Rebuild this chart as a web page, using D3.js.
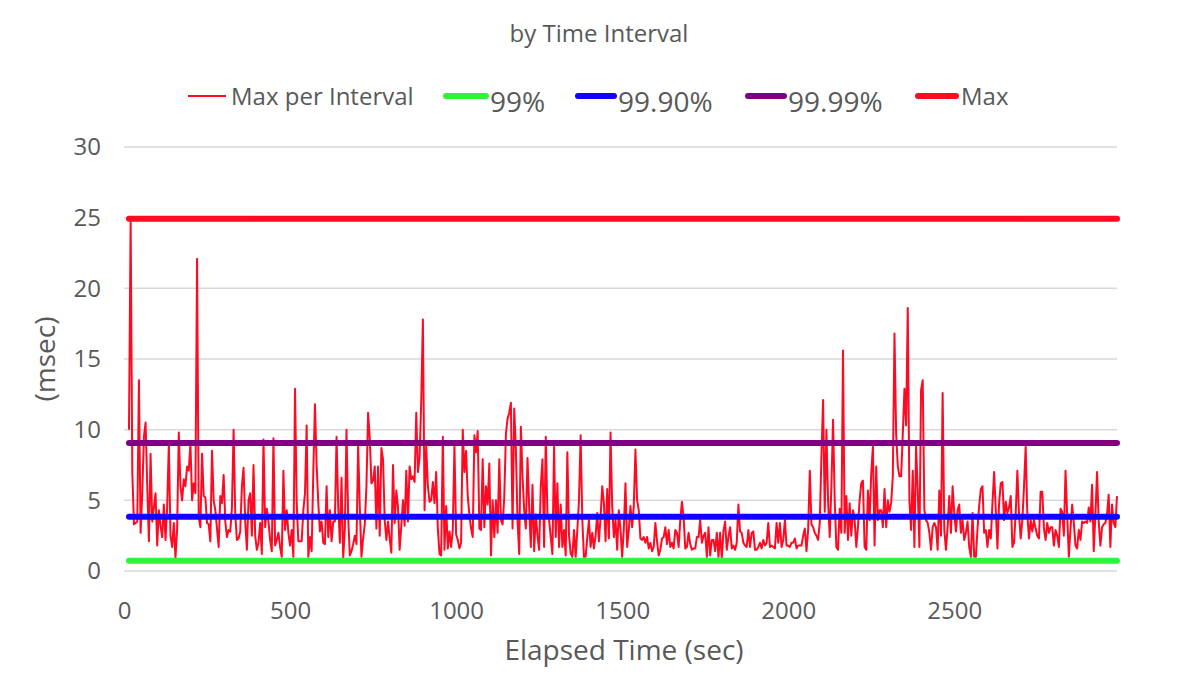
<!DOCTYPE html>
<html><head><meta charset="utf-8">
<script src="https://cdn.jsdelivr.net/npm/d3@7"></script>
<style>
body{margin:0;background:#fff}
svg{display:block}
text{font-family:"Open Sans",sans-serif;fill:#595959}
</style>
</head><body>
<svg id="chart" width="1196" height="698"></svg>
<script>
// Max latency per 5-second interval (msec)
const maxPerInterval = [
10,24.93,7,3.3,3.4,3.5,13.5,2.7,5.5,9.5,
10.5,6,2.1,8.3,3.5,4.5,5.5,1.8,4.3,3.2,
2.4,4.7,2.2,4.5,9,2.5,1.7,3.4,0.9,3,
9.8,6,5,6.5,6,7.4,7.1,9,5,6.2,
5.5,22.1,3.8,3.1,8.3,5.3,5.2,3.4,3.3,2.1,
8.5,5,4.3,3,1.7,5.3,4.8,6.8,3.5,2.4,
2.9,2.8,4.5,10,4,2.2,2.3,2.8,6,7.3,
3.5,1.5,5,5.5,2.5,7.5,2.5,1.5,2,3.4,
1.2,9.3,3.1,4.4,3.5,2.2,1.4,9.4,1.8,2.2,
2.7,1.7,1.0,7.1,2.9,4.3,2.7,1.8,2.9,1.0,
12.9,4.8,2.1,2.1,2.1,4.3,5.5,10.3,1.0,2.4,
1.4,7.0,11.8,7.5,4.8,2.8,3.5,2.0,1.9,6.0,
2.4,4.3,2.1,3.5,3.5,9.5,4.6,2.0,6.6,0.9,
3.0,10.0,3.8,1.1,1.4,1.9,2.5,1.9,8.9,4.5,
1.0,2.3,3.3,6,11.2,9.4,6.2,6.4,7.4,3.0,
7.4,2.5,8.7,7.9,3.6,2.2,3.5,2.3,1.3,7.5,
3.4,5.7,4.5,1.5,3.2,5.0,3.2,7.1,3.5,7.4,
6.5,6.7,6.3,11.2,7.0,8.0,12,17.8,4.3,8.8,
6.0,4.9,5.0,6.3,4.8,7.0,3.0,1.2,1.1,9.5,
1.5,4.6,1.6,2.8,1.7,2.9,8.9,2.6,2.2,1.6,
2.0,10.0,7.0,8.5,5.3,4.0,3.0,2.4,9.6,8.4,
9.9,3.0,2.9,7.9,3.1,6.0,4.7,7.6,1.1,5.0,
2.4,5.0,2.7,7.9,3.6,3.3,5.2,9.7,10.8,11.2,
11.9,3.0,11.5,8.6,3.5,1.2,10.2,6.7,4.3,3.0,
8.0,4.5,1.7,6.1,1.4,4.0,2.5,1.5,6.0,7.9,
1.7,9.5,4.0,3.6,2.4,1.2,8.8,2.4,6.2,1.7,
4.7,1.7,2.9,1.1,8.4,2.5,1.25,1.0,2.9,1.0,
2.9,5.0,9.6,3.6,1.0,1.0,2.4,3.6,1.7,2.7,
1.6,2.5,4.1,2.1,3.8,6.0,4.8,2.1,5.8,2.3,
9.8,4.6,2.4,3.6,1.5,4.3,2.9,1.0,3.0,6.2,
1.7,2.9,4.6,3.1,4.6,8.6,5.0,4.3,2.3,2.2,
2.4,2.0,2.4,1.6,2.0,1.4,1.7,3.4,2.1,1.1,
1.5,2.3,2.4,3.1,1.9,2.9,1.7,2.0,1.6,2.9,
2.7,1.7,3.6,4.9,3.8,1.6,1.7,2.7,1.9,1.5,
1.6,1.6,2.4,2.4,3.6,2.0,2.5,2.7,1.0,3.1,
1.1,2.2,2.2,1.4,2.7,1.0,2.7,0.9,2.8,3.5,
1.5,2.4,3.1,1.6,1.8,1.5,2.0,4.7,2.8,2.7,
2.0,1.8,1.7,2.9,1.7,2.7,2.8,1.5,1.5,1.7,
2.0,1.6,2.2,1.8,2.0,3.4,1.7,1.8,1.7,1.6,
3.4,2.0,3.4,1.7,2.2,3.6,1.8,1.8,1.7,2.0,
2.0,2.3,1.6,1.8,1.8,1.8,2.5,3.0,1.4,2.9,
7.1,3.3,3.1,2.7,2.5,2.2,3.4,8.1,12.1,4.2,
10.0,5.0,2.4,6.0,10.7,5.0,1.7,1.5,4.4,2.7,
15.6,2.7,5.3,2.2,4.8,2.5,4.3,3.6,1.7,3.1,
5.0,6.2,6.4,1.7,1.5,5.7,3.6,6.9,8.8,1.8,
7.4,3.6,4.3,4.3,3.1,5.8,3.1,5.0,4.2,4.8,
6.7,16.8,9.7,7.4,6.7,6.7,9.7,12.9,10.3,18.6,
5.0,2.9,7.1,1.7,8.8,5.7,1.7,12.8,13.5,4.3,
3.6,3.4,2.7,1.5,3.1,3.4,3.1,1.5,5.7,2.5,
12.6,2.9,1.5,3.1,5.3,2.7,6.0,4.1,2.8,4.3,
4.7,2.7,3.6,2.2,2.7,3.5,1.7,1.0,4.1,1.0,
1.0,3.0,4.6,5.8,6.0,2.7,2.9,1.7,2.9,2.3,
4.8,7.0,4.3,1.6,4.8,6.2,6.3,3.6,4.9,4.1,
4.5,5.3,1.7,2.0,4.1,7.1,4.0,2.3,3.6,6.0,
8.8,4.0,2.3,3.6,2.8,3.6,3.0,2.5,2.3,5.6,
5.6,3.0,2.2,3.4,2.7,3.1,3.1,1.8,2.9,2.5,
1.7,4.4,4.2,2.5,7.1,4.0,1.0,3.0,4.7,3.4,
1.8,1.6,2.9,2.2,3.5,3.4,3.5,3.4,4.5,3.5,
6.1,1.4,4.0,7.0,3.4,1.8,3.1,3.3,3.4,4.0,
5.4,1.7,4.7,3.4,3.1,5.3
];
const firstSec = 15, stepSec = 5;
const elapsedSec = maxPerInterval.map((_, i) => firstSec + stepSec * i);

const percentileNames = ["99%", "99.90%", "99.99%", "Max"];
const percentileValues = [0.73, 3.84, 9.06, 24.93];
const percentileColors = ["#2ef53c", "#1400ff", "#800080", "#ff0a23"];
const seriesName = "Max per Interval";
const seriesColor = "#ff0a23";

const yTicks = [0, 5, 10, 15, 20, 25, 30];
const xTicks = [0, 500, 1000, 1500, 2000, 2500];
const xDomain = [0, 2990];
const yDomain = [0, 30];

const svg = d3.select("#chart");
svg.append("rect").attr("width", 1196).attr("height", 698).attr("fill", "#fff");

const x = d3.scaleLinear().domain(xDomain).range([124, 1117]);
const y = d3.scaleLinear().domain(yDomain).range([571, 147]);

// gridlines
svg.append("g").selectAll("line").data(yTicks).join("line")
  .attr("x1", x(xDomain[0])).attr("x2", x(xDomain[1]))
  .attr("y1", d => y(d)).attr("y2", d => y(d))
  .attr("stroke", "#d9d9d9").attr("stroke-width", 1.5);

// axes
const yAxis = svg.append("g").attr("transform", `translate(${x(xDomain[0])},0)`)
  .call(d3.axisLeft(y).tickValues(yTicks).tickSize(0).tickPadding(23).tickFormat(d3.format("d")));
const xAxis = svg.append("g").attr("transform", `translate(0,${y(0)})`)
  .call(d3.axisBottom(x).tickValues(xTicks).tickSize(0).tickPadding(31).tickFormat(d3.format("d")));
[yAxis, xAxis].forEach(a => {
  a.select(".domain").remove();
  a.selectAll("text").attr("font-size", 24).attr("font-family", '"Open Sans",sans-serif').attr("fill", "#595959");
});

// series
const line = d3.line().x((d, i) => x(elapsedSec[i])).y(d => y(d));
svg.append("path").datum(maxPerInterval)
  .attr("d", line).attr("fill", "none")
  .attr("stroke", seriesColor).attr("stroke-width", 2).attr("stroke-linejoin", "round");

// percentile lines
const first = elapsedSec[0], last = elapsedSec[elapsedSec.length - 1];
svg.append("g").selectAll("line").data(percentileValues).join("line")
  .attr("x1", x(first)).attr("x2", x(last))
  .attr("y1", d => y(d)).attr("y2", d => y(d))
  .attr("stroke", (d, i) => percentileColors[i]).attr("stroke-width", 6)
  .attr("stroke-linecap", "round");

// title
svg.append("text").attr("x", 599).attr("y", 42).attr("text-anchor", "middle")
  .attr("font-size", 24).text("by Time Interval");

// legend
const lg = svg.append("g");
lg.append("line").attr("x1", 188).attr("x2", 226).attr("y1", 96).attr("y2", 96)
  .attr("stroke", seriesColor).attr("stroke-width", 2);
lg.append("text").attr("x", 231).attr("y", 105).attr("font-size", 24).text(seriesName);
const swX = [446, 578, 748, 918];
const swW = [40, 36, 36, 38];
percentileNames.forEach((name, i) => {
  lg.append("line").attr("x1", swX[i]).attr("x2", swX[i] + swW[i]).attr("y1", 96).attr("y2", 96)
    .attr("stroke", percentileColors[i]).attr("stroke-width", 6).attr("stroke-linecap", "round");
  const isMax = i === 3;
  lg.append("text").attr("x", swX[i] + swW[i] + (isMax ? 5 : 4))
    .attr("y", isMax ? 105 : 112).attr("font-size", isMax ? 24 : 28).text(name);
});

// axis titles
svg.append("text").attr("x", 624).attr("y", 660).attr("text-anchor", "middle")
  .attr("font-size", 28).text("Elapsed Time (sec)");
svg.append("text").attr("transform", "translate(55,359) rotate(-90)").attr("text-anchor", "middle")
  .attr("font-size", 28).text("(msec)");
</script>
</body></html>
